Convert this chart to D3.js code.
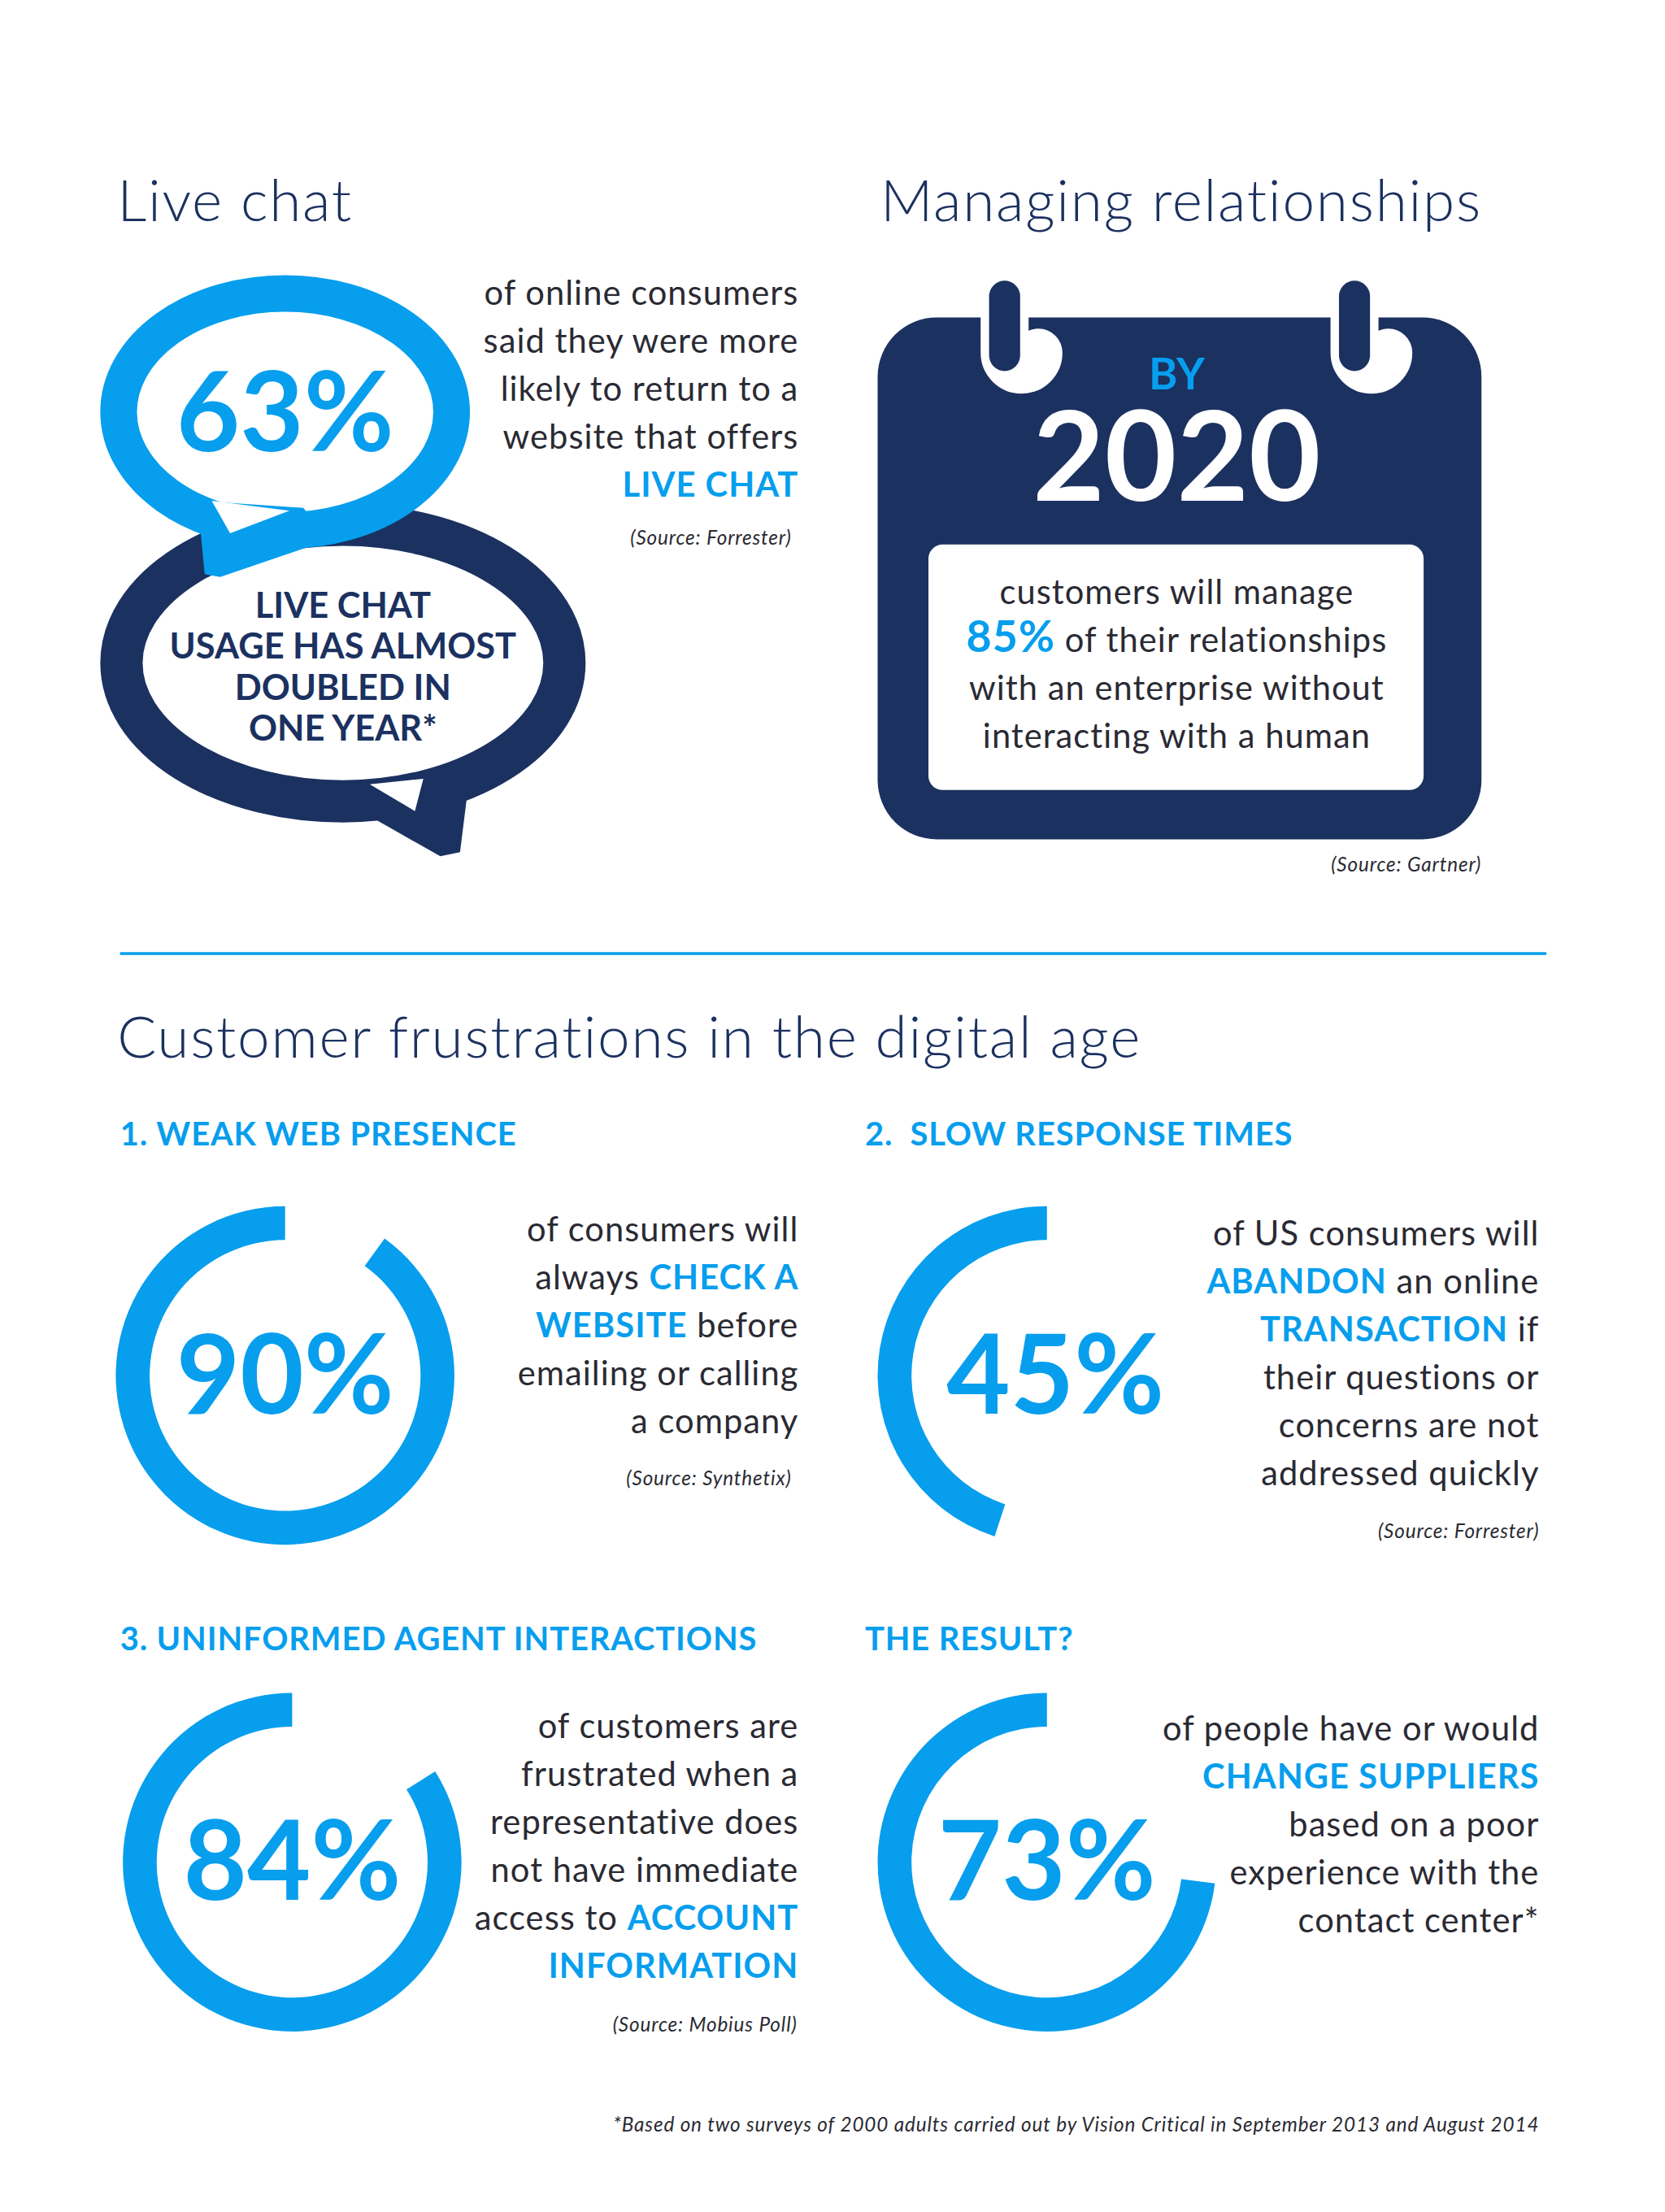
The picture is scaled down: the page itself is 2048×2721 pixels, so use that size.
<!DOCTYPE html>
<html><head><meta charset="utf-8">
<script src="https://cdn.jsdelivr.net/npm/d3@7"></script>
<style>body{margin:0;background:#fff}text{font-family:Lato,"Open Sans",sans-serif;white-space:pre}</style>
</head><body><svg id="c"></svg>
<script>
// values
const rings = [
  { pct: 90, label: "90%", cx: 202, cy: 975 },
  { pct: 45, label: "45%", cx: 742, cy: 975 },
  { pct: 84, label: "84%", cx: 207, cy: 1320 },
  { pct: 73, label: "73%", cx: 742, cy: 1320 }
];
const headings = [
  { t: "1. WEAK WEB PRESENCE", x: 85, y: 812 },
  { t: "2.  SLOW RESPONSE TIMES", x: 613, y: 812 },
  { t: "3. UNINFORMED AGENT INTERACTIONS", x: 85, y: 1170 },
  { t: "THE RESULT?", x: 613, y: 1170 }
];
// each line: array of [text, highlight]
const blocks = [
  { x: 566, y: 216, lines: [[["of online consumers",0]],[["said they were more",0]],[["likely to return to a",0]],[["website that offers",0]],[["LIVE CHAT",1]]], src: ["(Source: Forrester)", 561, 386] },
  { x: 566, y: 880, lines: [[["of consumers will",0]],[["always ",0],["CHECK A",1]],[["WEBSITE",1],[" before",0]],[["emailing or calling",0]],[["a company",0]]], src: ["(Source: Synthetix)", 561, 1053] },
  { x: 1091, y: 883, lines: [[["of US consumers will",0]],[["ABANDON",1],[" an online",0]],[["TRANSACTION",1],[" if",0]],[["their questions or",0]],[["concerns are not",0]],[["addressed quickly",0]]], src: ["(Source: Forrester)", 1091, 1090] },
  { x: 566, y: 1232, lines: [[["of customers are",0]],[["frustrated when a",0]],[["representative does",0]],[["not have immediate",0]],[["access to ",0],["ACCOUNT",1]],[["INFORMATION",1]]], src: ["(Source: Mobius Poll)", 565, 1440] },
  { x: 1091, y: 1234, lines: [[["of people have or would",0]],[["CHANGE SUPPLIERS",1]],[["based on a poor",0]],[["experience with the",0]],[["contact center*",0]]], src: null }
];
const calLines = [[["customers will manage",0]],[["85%",1],[" of their relationships",0]],[["with an enterprise without",0]],[["interacting with a human",0]]];

const BLUE = "#079eee", NAVY = "#1b3160", TXT = "#2a2a33";
const svg = d3.select("#c").attr("width", 2048).attr("height", 2721).attr("viewBox", "0 0 1180 1568");

const title = (t, x, y) => svg.append("text").attr("x", x).attr("y", y).attr("font-size", 41).attr("font-weight", 300).attr("letter-spacing", 1).attr("fill", NAVY).text(t);
title("Live chat", 83, 157);
title("Managing relationships", 624, 157);
title("Customer frustrations in the digital age", 83, 750);

// speech bubbles
svg.append("ellipse").attr("cx", 243).attr("cy", 470).attr("rx", 157).attr("ry", 98).attr("fill", "#fff").attr("stroke", NAVY).attr("stroke-width", 30);
svg.append("path").attr("d", d3.line()([[250, 566], [332, 556], [326, 604], [312, 607], [268, 582]])).attr("fill", NAVY);
svg.append("path").attr("d", d3.line()([[262, 556], [300, 552], [294, 575]])).attr("fill", "#fff");
svg.append("ellipse").attr("cx", 202).attr("cy", 292).attr("rx", 118).attr("ry", 84).attr("fill", "#fff").attr("stroke", BLUE).attr("stroke-width", 26);
svg.append("path").attr("d", d3.line()([[140, 355], [145, 407], [156, 409], [232, 383], [215, 360]])).attr("fill", BLUE);
svg.append("path").attr("d", d3.line()([[150, 355], [163, 378], [205, 362]])).attr("fill", "#fff");
svg.append("text").attr("x", 202).attr("y", 320).attr("text-anchor", "middle").attr("font-size", 78).attr("font-weight", 700).attr("fill", BLUE).text("63%");
["LIVE CHAT", "USAGE HAS ALMOST", "DOUBLED IN", "ONE YEAR*"].forEach((t, i) =>
  svg.append("text").attr("x", 243).attr("y", 438 + i * 29).attr("text-anchor", "middle").attr("font-size", 25).attr("font-weight", 700).attr("fill", NAVY).text(t));

function block(x, y, lines, step, size, anchor) {
  lines.forEach((ln, i) => {
    const t = svg.append("text").attr("x", x).attr("y", y + i * step).attr("text-anchor", anchor).attr("font-size", size).attr("letter-spacing", 0.6).attr("fill", TXT);
    ln.forEach(([s, h]) => t.append("tspan").text(s).attr("fill", h ? BLUE : TXT).attr("font-weight", h ? 700 : 400).attr("font-size", h && anchor === "middle" ? 31 : size));
  });
}
function src(t, x, y) {
  svg.append("text").attr("x", x).attr("y", y).attr("text-anchor", "end").attr("font-size", 14).attr("letter-spacing", 0.5).attr("font-style", "italic").attr("fill", TXT).text(t);
}
blocks.forEach(b => { block(b.x, b.y, b.lines, 34, 24, "end"); if (b.src) src(...b.src); });

// calendar
svg.append("rect").attr("x", 622).attr("y", 225).attr("width", 428).attr("height", 370).attr("rx", 42).attr("fill", NAVY);
[712, 960].forEach(x => {
  svg.append("path").attr("d", `M${x},210 V250 a12,12 0 0 0 ${24},0`).attr("fill", "none").attr("stroke", "#fff").attr("stroke-width", 34).attr("stroke-linecap", "round");
  svg.append("path").attr("d", `M${x},210 V252`).attr("fill", "none").attr("stroke", NAVY).attr("stroke-width", 22).attr("stroke-linecap", "round");
});
svg.append("text").attr("x", 834).attr("y", 276).attr("text-anchor", "middle").attr("font-size", 31).attr("font-weight", 700).attr("fill", BLUE).text("BY");
svg.append("text").attr("x", 834).attr("y", 355).attr("text-anchor", "middle").attr("font-size", 88).attr("font-weight", 700).attr("fill", "#fff").text("2020");
svg.append("rect").attr("x", 658).attr("y", 386).attr("width", 351).attr("height", 174).attr("rx", 10).attr("fill", "#fff");
block(834, 428, calLines, 34, 24, "middle");
src("(Source: Gartner)", 1050, 618);

svg.append("line").attr("x1", 85).attr("x2", 1096).attr("y1", 676).attr("y2", 676).attr("stroke", BLUE).attr("stroke-width", 2);

headings.forEach(h => svg.append("text").attr("x", h.x).attr("y", h.y).attr("font-size", 23).attr("font-weight", 700).attr("letter-spacing", 0.5).attr("fill", BLUE).text(h.t));

// progress rings: start at 12 o'clock, run counter-clockwise
const scale = d3.scaleLinear().domain([0, 100]).range([0, -2 * Math.PI]);
const arc = d3.arc().innerRadius(96).outerRadius(120).startAngle(0);
rings.forEach(r => {
  svg.append("path").attr("transform", `translate(${r.cx},${r.cy})`).attr("d", arc({ endAngle: scale(r.pct) })).attr("fill", BLUE);
  svg.append("text").attr("x", r.cx + (r.pct < 50 ? 6 : 0)).attr("y", r.cy + 27).attr("text-anchor", "middle").attr("font-size", 78).attr("font-weight", 700).attr("fill", BLUE).text(r.label);
});

svg.append("text").attr("x", 1091).attr("y", 1511).attr("text-anchor", "end").attr("font-size", 14).attr("letter-spacing", 0.5).attr("font-style", "italic").attr("fill", TXT)
  .text("*Based on two surveys of 2000 adults carried out by Vision Critical in September 2013 and August 2014");
</script></body></html>
